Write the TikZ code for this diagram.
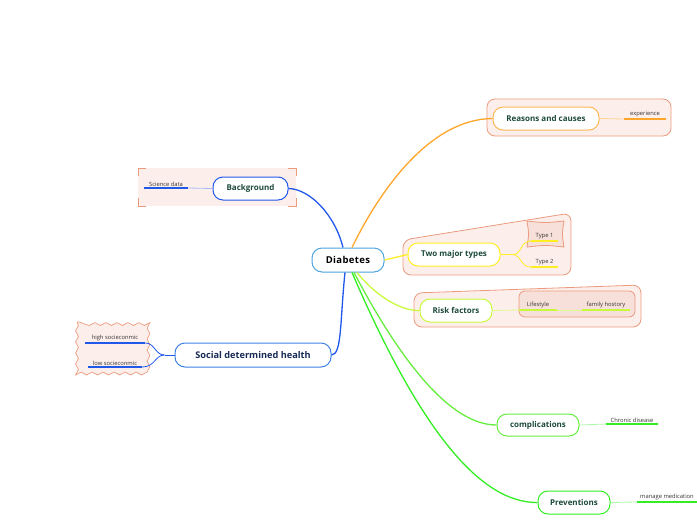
\documentclass[tikz,border=0pt]{standalone}
\usepackage{fontspec}
\setmainfont{Open Sans}
\usetikzlibrary{decorations.pathmorphing}
\definecolor{pinkfill}{HTML}{FCEFEB}
\definecolor{pinkdeep}{HTML}{F7E0D9}
\definecolor{salmon}{HTML}{EC9A7E}
\definecolor{deepgreen}{HTML}{1D4A3A}
\definecolor{navy}{HTML}{172A55}
\definecolor{skyblue}{HTML}{4FA3DF}
\definecolor{blueline}{HTML}{2258EA}
\definecolor{orangeline}{HTML}{FFA52A}
\definecolor{yellowline}{HTML}{FFEE22}
\definecolor{limeline}{HTML}{C8FA3C}
\definecolor{greenline}{HTML}{66EE3E}
\definecolor{greenline2}{HTML}{33EE22}
\begin{document}
\begin{tikzpicture}[x=1pt,y=-1pt,
	topic/.style={draw,line width=1pt,rounded corners=10pt,fill=white,minimum height=23pt,inner sep=0pt,font=\bfseries\fontsize{8}{9}\selectfont,text=deepgreen},
	leaf/.style={inner sep=1.5pt,anchor=south,font=\fontsize{5.8}{6}\selectfont,text=black!80},
	boundary/.style={draw=salmon,fill=pinkfill,line width=0.8pt,rounded corners=8pt},
	branch/.style={line width=1.3pt},
	twig/.style={line width=0.8pt}]
	\useasboundingbox (0,0) rectangle (697,520);
	
	% boundaries
	\fill[pinkfill] (138,168) rectangle (296,206);
	\draw[salmon,line width=0.9pt] (138,176) -- (138,168) -- (146,168);
	\draw[salmon,line width=0.9pt] (288,168) -- (296,168) -- (296,176);
	\draw[salmon,line width=0.9pt] (138,198) -- (138,206) -- (146,206);
	\draw[salmon,line width=0.9pt] (288,206) -- (296,206) -- (296,198);
	\draw[boundary] (487,99) rectangle (671,136);
	\draw[boundary] (403,275) -- (403,240) -- (571,213) -- (571,275) -- cycle;
	\draw[boundary] (414,327) -- (414,293) -- (641,285) -- (641,327) -- cycle;
	\draw[boundary,rounded corners=6pt,fill=pinkdeep] (519,291) rectangle (635,317);
	\draw[draw=salmon,fill=pinkdeep,line width=0.8pt] (527,221) .. controls (545,223) .. (564,221) .. controls (562,234) .. (564,247) .. controls (545,245) .. (527,247) .. controls (529,234) .. cycle;
	\draw[draw=salmon,fill=pinkfill,line width=0.7pt,decorate,decoration={snake,segment length=11pt,amplitude=1.4pt}] (77,322) rectangle (145,374);
	
	% topics
	\node[topic,draw=skyblue,text=black,minimum width=72pt,minimum height=24pt,font=\bfseries\fontsize{9.5}{10}\selectfont\addfontfeature{LetterSpace=4}] (dia) at (348,260) {Diabetes};
	\node[topic,draw=blueline,minimum width=75pt] (bg) at (250.5,188.5) {Background};
	\node[topic,draw=orangeline!80,minimum width=106pt] (rc) at (546,118.5) {Reasons and causes};
	\node[topic,draw=yellowline,minimum width=92pt] (two) at (454,254.5) {Two major types};
	\node[topic,draw=limeline,minimum width=72pt] (risk) at (456,310.5) {Risk factors};
	\node[topic,draw=skyblue!80!blue,text=navy,minimum width=156pt,minimum height=24pt,font=\bfseries\fontsize{9.2}{10}\selectfont] (soc) at (253,355) {Social determined health};
	\node[topic,draw=greenline,minimum width=82pt,minimum height=22pt] (comp) at (538,425) {complications};
	\node[topic,draw=greenline2,minimum width=72pt] (prev) at (574,502.5) {Preventions};
	
	% leaves
	\node[leaf,minimum width=44pt] (sd) at (166,188) {Science data};
	\node[leaf,minimum width=42pt] (exp) at (645,119) {experience};
	\node[leaf,minimum width=27pt] (t1) at (544.5,241) {Type 1};
	\node[leaf,minimum width=27pt] (t2) at (544.5,267) {Type 2};
	\node[leaf,minimum width=38pt] (life) at (538,310) {Lifestyle};
	\node[leaf,minimum width=48pt] (fam) at (606,310) {family hostory};
	\node[leaf,minimum width=60pt] (high) at (115,343) {high socieconmic};
	\node[leaf,minimum width=54pt] (low) at (115,367) {low socieconmic};
	\node[leaf,minimum width=52pt] (chr) at (632,424) {Chronic disease};
	\node[leaf,minimum width=60pt] (man) at (667,502) {manage medication};
	
	% underlines
	\draw[blueline,line width=1.2pt] (sd.south west) -- (sd.south east);
	\draw[orangeline,line width=1.2pt] (exp.south west) -- (exp.south east);
	\draw[yellowline,line width=1.2pt] (t1.south west) -- (t1.south east);
	\draw[yellowline,line width=1.2pt] (t2.south west) -- (t2.south east);
	\draw[limeline,line width=1.2pt] (life.south west) -- (life.south east);
	\draw[limeline,line width=1.2pt] (fam.south west) -- (fam.south east);
	\draw[blueline,line width=1.2pt] (high.south west) -- (high.south east);
	\draw[blueline,line width=1.2pt] (low.south west) -- (low.south east);
	\draw[greenline2,line width=1.2pt] (chr.south west) -- (chr.south east);
	\draw[greenline2,line width=1.2pt] (man.south west) -- (man.south east);
	
	% main branches
	\draw[branch,blueline] (dia.north) ++(-5,0) .. controls (335,215) and (310,189) .. (bg.east);
	\draw[branch,orangeline] (dia.north) ++(4,0) .. controls (380,190) and (430,119) .. (rc.west);
	\draw[branch,yellowline] (dia.east) -- (two.west);
	\draw[branch,limeline] (dia.south) ++(9,0) .. controls (375,295) and (400,311) .. (risk.west);
	\draw[branch,greenline] (dia.south) ++(6,0) .. controls (400,360) and (450,425) .. (comp.west);
	\draw[branch,greenline2] (dia.south) ++(4,0) .. controls (420,430) and (480,503) .. (prev.west);
	\draw[branch,blueline] (dia.south) ++(-3,0) .. controls (340,320) and (342,355) .. (soc.east);
	
	% twigs
	\draw[twig,blueline!40] (sd.south east) -- (bg.west);
	\draw[twig,orangeline!50] (rc.east) -- (exp.south west);
	\draw[twig,yellowline] (two.east) -- ++(12,0) coordinate (tf);
	\draw[twig,yellowline] (tf) .. controls (522,255) and (520,241) .. (t1.south west);
	\draw[twig,yellowline] (tf) .. controls (522,255) and (520,267) .. (t2.south west);
	\draw[twig,limeline!60] (risk.east) -- (life.south west);
	\draw[twig,limeline!60] (life.south east) -- (fam.south west);
	\draw[twig,blueline] (soc.west) -- ++(-10,0) coordinate (sf);
	\draw[twig,blueline] (sf) .. controls (155,355) and (155,343) .. (high.south east);
	\draw[twig,blueline] (sf) .. controls (155,355) and (155,367) .. (low.south east);
	\draw[twig,greenline2!40] (comp.east) -- (chr.south west);
	\draw[twig,greenline2!40] (prev.east) -- (man.south west);
\end{tikzpicture}
\end{document}
